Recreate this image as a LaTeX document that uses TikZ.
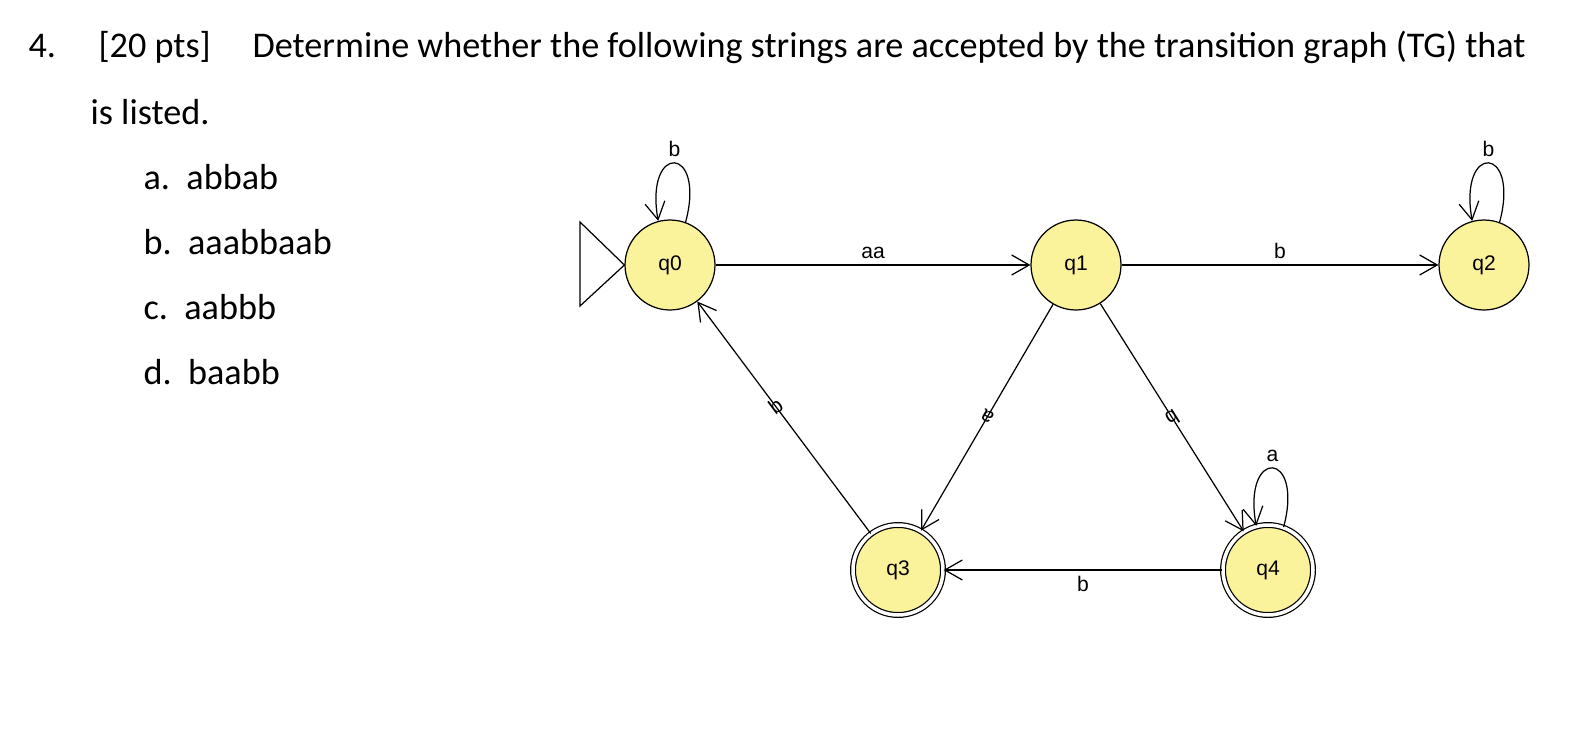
\documentclass[tikz,border=0pt]{standalone}
\usepackage{fontspec}
\setmainfont{Carlito}
\newfontfamily\lab{Liberation Sans}
\usetikzlibrary{arrows.meta}
\definecolor{st}{HTML}{FBF39C}
\begin{document}
\begin{tikzpicture}[x=0.02cm,y=-0.02cm,line width=0.7pt,
  txt/.style={anchor=base west,inner sep=0,font=\fontsize{20.6}{24}\selectfont},
  state/.style={circle,draw,fill=st,minimum size=1.8cm,inner sep=0,font=\lab\fontsize{12}{14}\selectfont},
  acc/.style={state,double,double distance=2pt},
  el/.style={font=\lab\fontsize{12}{14}\selectfont},
  tr/.style={-{Straight Barb[length=3.5mm,width=4mm]}}]
\useasboundingbox (0,0) rectangle (1576,730);
\node[txt] (n4) at (28,57) {4.};
\node[txt] (pts) at (98,57) {[20 pts]};
\node[txt] (q) at (252,57) {Determine whether the following strings are accepted by the transition graph (TG) that};
\node[txt] (il) at (90,124) {is listed.};
\node[txt] (a) at (143,189) {a.\ \ abbab};
\node[txt] (b) at (143,254) {b.\ \ aaabbaab};
\node[txt] (c) at (143,319) {c.\ \ aabbb};
\node[txt] (d) at (143,384) {d.\ \ baabb};
\node[state] (q0) at (670,265) {q0};
\node[state] (q1) at (1076,265) {q1};
\node[state] (q2) at (1484,265) {q2};
\node[acc] (q3) at (898,570) {q3};
\node[acc] (q4) at (1268,570) {q4};
\coordinate (s1) at (580,222); \coordinate (s2) at (580,306);
\draw (s1) -- (q0.west) -- (s2) -- cycle;
\draw[tr] (q0) -- node[el,above] {aa} (q1);
\draw[tr] (q1) -- node[el,above] {b} (q2);
\draw[tr] (q4) -- node[el,below] {b} (q3);
\draw[tr] (q1) -- node[el,sloped,above,rotate=90,pos=0.45] {a} (q3);
\draw[tr] (q1) -- node[el,sloped,above,rotate=-90,pos=0.45] {b} (q4);
\draw[tr] (q3) -- node[el,sloped,above,rotate=90] {b} (q0);
\draw[tr] (q0.70) .. controls +(75:1.6cm) and +(100:1.6cm) .. node[el,above] {b} (q0.105);
\draw[tr] (q2.70) .. controls +(75:1.6cm) and +(100:1.6cm) .. node[el,above] {b} (q2.105);
\draw[tr] (q4.70) .. controls +(75:1.6cm) and +(100:1.6cm) .. node[el,above] {a} (q4.105);
\end{tikzpicture}
\end{document}
